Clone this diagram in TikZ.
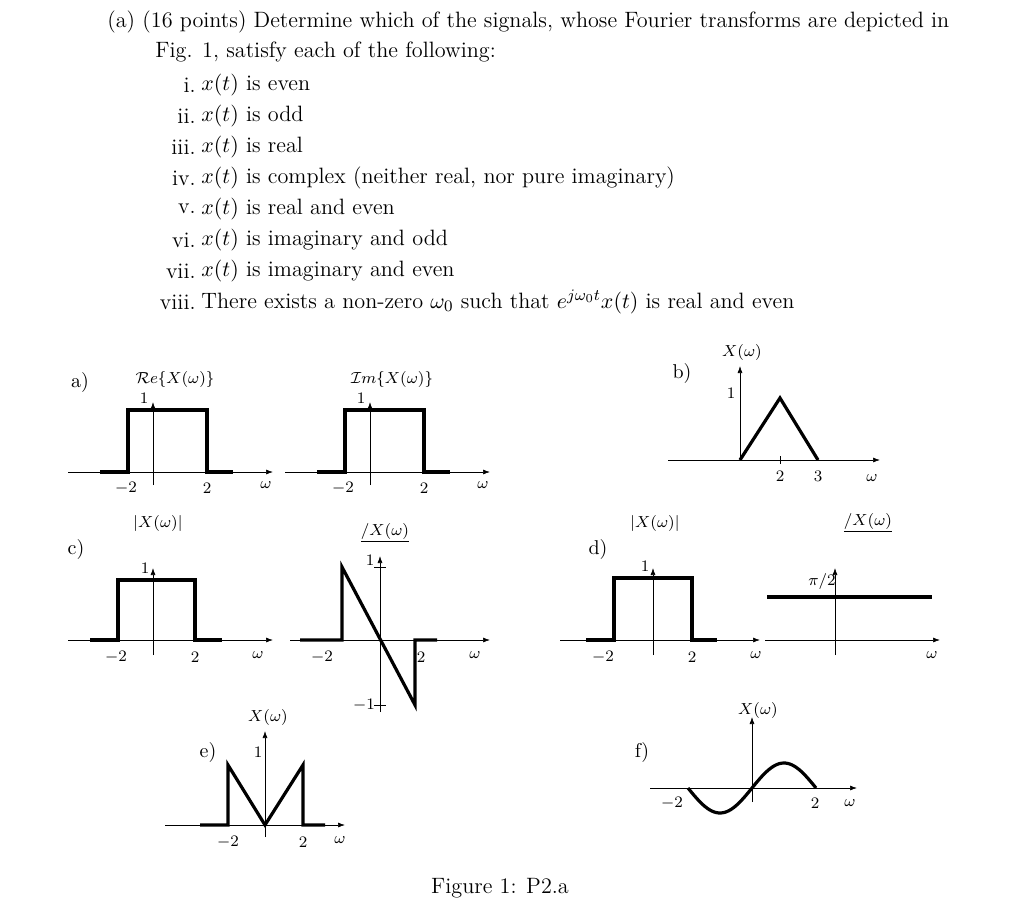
\documentclass[tikz,border=0pt]{standalone}
\usepackage{amsmath,amssymb}
\usetikzlibrary{arrows.meta}
\tikzset{
  ax/.style={line width=0.35pt,-{Latex[length=3.5pt,width=2.5pt]}},
  sig/.style={line width=1.6pt},
  lbl/.style={font=\fontsize{8}{9}\selectfont,inner sep=1pt},
  txt/.style={font=\fontsize{11.1}{13}\selectfont,anchor=west,inner sep=0pt},
  num/.style={font=\fontsize{11.1}{13}\selectfont,anchor=east,inner sep=0pt}
}
\begin{document}
\begin{tikzpicture}[x=0.5pt,y=-0.5pt]
    \useasboundingbox (0,0) rectangle (1024,916);
    % Enunciado
    \node[txt] (q1) at (107,22) {(a) (16 points) Determine which of the signals, whose Fourier transforms are depicted in};
    \node[txt] (q2) at (155,52) {Fig. 1, satisfy each of the following:};
    \node[num] (n1) at (196,85) {i.};    \node[txt] (i1) at (201,85) {$x(t)$ is even};
    \node[num] (n2) at (196,116) {ii.};  \node[txt] (i2) at (201,116) {$x(t)$ is odd};
    \node[num] (n3) at (196,147) {iii.}; \node[txt] (i3) at (201,147) {$x(t)$ is real};
    \node[num] (n4) at (196,178) {iv.};  \node[txt] (i4) at (201,178) {$x(t)$ is complex (neither real, nor pure imaginary)};
    \node[num] (n5) at (196,209) {v.};   \node[txt] (i5) at (201,209) {$x(t)$ is real and even};
    \node[num] (n6) at (196,240) {vi.};  \node[txt] (i6) at (201,240) {$x(t)$ is imaginary and odd};
    \node[num] (n7) at (196,271) {vii.}; \node[txt] (i7) at (201,271) {$x(t)$ is imaginary and even};
    \node[num] (n8) at (196,302) {viii.};\node[txt] (i8) at (201,302) {There exists a non-zero $\omega_0$ such that $e^{j\omega_0 t}x(t)$ is real and even};
    % a) Re
    \node[lbl,font=\fontsize{10}{11}\selectfont] (la) at (80,382) {a)};
    \draw[ax] (68,472) -- (273,472);
    \draw[ax] (153,485) -- (153,402);
    \draw[sig] (100,472) -- (128,472) -- (128,410) -- (207,410) -- (207,472) -- (233,472);
    \node[lbl] (ra1) at (144,398) {1};
    \node[lbl] (ram) at (126,488) {$-2$};
    \node[lbl] (rap) at (207,488) {$2$};
    \node[lbl] (raw) at (266,485) {$\omega$};
    \node[lbl] (rat) at (175,379) {$\mathcal{R}e\{X(\omega)\}$};
    % a) Im
    \draw[ax] (285,472) -- (490,472);
    \draw[ax] (370,485) -- (370,402);
    \draw[sig] (317,472) -- (345,472) -- (345,410) -- (424,410) -- (424,472) -- (450,472);
    \node[lbl] (ia1) at (361,398) {1};
    \node[lbl] (iam) at (343,488) {$-2$};
    \node[lbl] (iap) at (424,488) {$2$};
    \node[lbl] (iaw) at (483,485) {$\omega$};
    \node[lbl] (iat) at (392,379) {$\mathcal{I}m\{X(\omega)\}$};
    % b)
    \node[lbl,font=\fontsize{10}{11}\selectfont] (lb) at (682,373) {b)};
    \draw[ax] (668,460) -- (880,460);
    \draw[ax] (740,460) -- (740,366);
    \draw[sig] (740,460) -- (780,398) -- (818,460);
    \draw[line width=0.35pt] (780,456) -- (780,464);
    \node[lbl] (b1) at (731,393) {1};
    \node[lbl] (b2) at (780,476) {$2$};
    \node[lbl] (b3) at (818,476) {$3$};
    \node[lbl] (bw) at (872,478) {$\omega$};
    \node[lbl] (bt) at (742,352) {$X(\omega)$};
    % c) modulo
    \node[lbl,font=\fontsize{10}{11}\selectfont] (lc) at (76,549) {c)};
    \draw[ax] (68,640) -- (273,640);
    \draw[ax] (153,655) -- (153,568);
    \draw[sig] (90,640) -- (118,640) -- (118,580) -- (195,580) -- (195,640) -- (222,640);
    \node[lbl] (c1) at (145,568) {1};
    \node[lbl] (cm) at (116,657) {$-2$};
    \node[lbl] (cp) at (195,657) {$2$};
    \node[lbl] (cw) at (258,655) {$\omega$};
    \node[lbl] (ct) at (158,523) {$|X(\omega)|$};
    % c) fase
    \draw[ax] (290,640) -- (490,640);
    \draw[ax] (380,712) -- (380,556);
    \draw[line width=0.35pt] (374,567) -- (386,567);
    \draw[line width=0.35pt] (374,705) -- (386,705);
    \draw[sig] (300,640) -- (342,640) -- (342,567) -- (415,705) -- (415,640) -- (437,640);
    \node[lbl] (f1) at (370,560) {1};
    \node[lbl] (fn1) at (364,705) {$-1$};
    \node[lbl] (fm) at (322,657) {$-2$};
    \node[lbl] (fp) at (421,657) {$2$};
    \node[lbl] (fw) at (475,655) {$\omega$};
    \node[lbl] (ft) at (385,533) {$\underline{/X(\omega)}$};
    % d) modulo
    \node[lbl,font=\fontsize{10}{11}\selectfont] (ld) at (598,549) {d)};
    \draw[ax] (560,640) -- (760,640);
    \draw[ax] (653,655) -- (653,568);
    \draw[sig] (586,640) -- (614,640) -- (614,578) -- (692,578) -- (692,640) -- (717,640);
    \node[lbl] (d1) at (645,566) {1};
    \node[lbl] (dm) at (603,657) {$-2$};
    \node[lbl] (dp) at (692,657) {$2$};
    \node[lbl] (dw) at (756,655) {$\omega$};
    \node[lbl] (dt) at (655,523) {$|X(\omega)|$};
    % d) fase
    \draw[ax] (765,640) -- (940,640);
    \draw[ax] (835,655) -- (835,568);
    \draw[sig] (767,597) -- (932,597);
    \node[lbl] (dpi) at (822,581) {$\pi/2$};
    \node[lbl] (dfw) at (932,655) {$\omega$};
    \node[lbl] (dft) at (868,523) {$\underline{/X(\omega)}$};
    % e)
    \node[lbl,font=\fontsize{10}{11}\selectfont] (le) at (208,752) {e)};
    \draw[ax] (165,825) -- (345,825);
    \draw[ax] (265,837) -- (265,731);
    \draw[sig] (200,825) -- (228,825) -- (228,765) -- (265,825) -- (303,765) -- (303,825) -- (325,825);
    \node[lbl] (e1) at (258,752) {1};
    \node[lbl] (em) at (228,842) {$-2$};
    \node[lbl] (ep) at (303,842) {$2$};
    \node[lbl] (ew) at (340,840) {$\omega$};
    \node[lbl] (et) at (268,717) {$X(\omega)$};
    % f)
    \node[lbl,font=\fontsize{10}{11}\selectfont] (lf) at (642,752) {f)};
    \draw[ax] (650,788) -- (857,788);
    \draw[ax] (752,802) -- (752,717);
    \draw[sig] plot[domain=-2:2,samples=60] ({752+32*\x},{788-25*sin(90*\x)});
    \node[lbl] (fm2) at (672,803) {$-2$};
    \node[lbl] (fp2) at (815,803) {$2$};
    \node[lbl] (fw2) at (850,803) {$\omega$};
    \node[lbl] (ftt) at (758,710) {$X(\omega)$};
    % Pie
    \node[font=\fontsize{11.1}{13}\selectfont] (cap) at (500,888) {Figure 1: P2.a};
\end{tikzpicture}
\end{document}
